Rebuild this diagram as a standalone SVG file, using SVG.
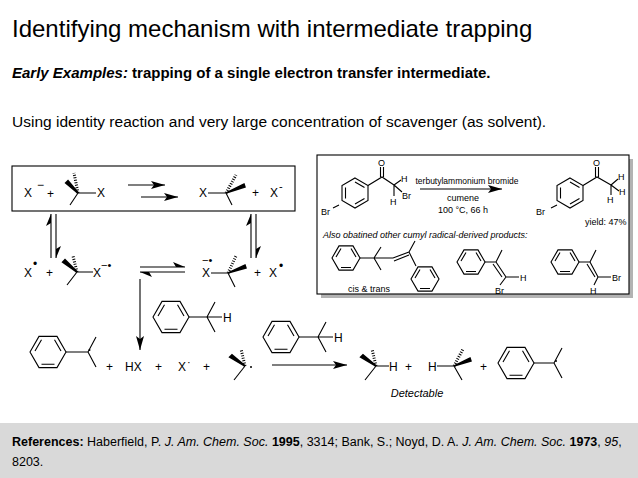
<svg xmlns="http://www.w3.org/2000/svg" width="638" height="478" viewBox="0 0 638 478">
<style>
text{font-family:"Liberation Sans",Arial,sans-serif;fill:#000}
.b{stroke:#000;stroke-width:1.1;fill:none}
.s{font-size:11px}
.m{font-size:12px}
.t{font-size:9px}
.i{font-style:italic}
</style>
<defs>
<g id="hx"><polygon class="b" points="-18,0 -9,-15.6 9,-15.6 18,0 9,15.6 -9,15.6"/><path class="b" d="M-13,-1 L-6.5,-12.2 M6.5,-12.2 L13,-1 M6.5,12.2 L-6.5,12.2"/></g>
<g id="hs"><polygon class="b" points="-14,0 -7,-12.1 7,-12.1 14,0 7,12.1 -7,12.1"/><path class="b" d="M-10,-1 L-5,-9.5 M5,-9.5 L10,-1 M5,9.5 L-5,9.5"/></g>
<g id="hp"><polygon class="b" points="0,-15 13,-7.5 13,7.5 0,15 -13,7.5 -13,-7.5"/><path class="b" d="M0,-11 L9.5,-5.5 M9.5,5.5 L0,11 M-9.5,5.5 L-9.5,-5.5"/></g>
<marker id="ab" viewBox="0 0 14 8" refX="14" refY="4" markerWidth="14" markerHeight="8" markerUnits="userSpaceOnUse" orient="auto"><path d="M0,0 L14,4 L0,8 L3,4z" fill="#000"/></marker>
<marker id="hf" viewBox="0 0 12 5" refX="12" refY="5" markerWidth="12" markerHeight="5" markerUnits="userSpaceOnUse" orient="auto"><path d="M0,0 L12,5 L3,5z" fill="#000"/></marker>
</defs>
<rect width="638" height="478" fill="#fff"/>
<text x="12" y="37" font-size="24">Identifying mechanism with intermediate trapping</text>
<text x="12" y="78" font-size="15" font-weight="bold"><tspan font-style="italic">Early Examples:</tspan> trapping of a single electron transfer intermediate.</text>
<text x="12" y="127" font-size="15.5">Using identity reaction and very large concentration of scavenger (as solvent).</text>

<g id="box1">
<rect x="12" y="166" width="283" height="45" class="b" stroke-width="1.3"/>
<text x="24" y="197" class="m">X</text><text x="37" y="189" class="m">−</text><text x="47" y="198" class="m">+</text>
<path d="M78,193 L66,183 L68,181z" fill="#000" stroke="#000" stroke-width="2"/>
<path d="M78,193 L74,173" stroke="#000" stroke-width="3" stroke-dasharray="1 1.5"/>
<path class="b" d="M78,193 L70,205 M78,193 L96,193"/>
<text x="97" y="197" class="m">X</text>
<text x="199" y="197" class="m">X</text>
<path class="b" d="M208,193 L226,193 L232,205"/>
<path d="M226,193 L244,184 L245,187z" fill="#000" stroke="#000" stroke-width="1.5"/>
<path d="M226,193 L236,175" stroke="#000" stroke-width="3" stroke-dasharray="1 1.5"/>
<text x="252" y="197" class="m">+</text><text x="270" y="197" class="m">X</text><text x="279" y="190" class="s">-</text>
</g>
<g id="row2">
<text x="24" y="277" class="m">X</text><text x="33" y="268" class="m">•</text><text x="46" y="277" class="m">+</text>
<path d="M77,272 L63,262 L65,260z" fill="#000" stroke="#000" stroke-width="2"/>
<path d="M77,272 L73,256" stroke="#000" stroke-width="3" stroke-dasharray="1 1.5"/>
<path class="b" d="M77,272 L67,285 M77,272 L93,272"/>
<text x="93" y="277" class="m">X</text><text x="101" y="269" class="s">−•</text>
<text x="202" y="277" class="m">X</text><text x="202" y="264" class="s">−•</text>
<path class="b" d="M211,273 L228,273 L235,287"/>
<path d="M228,273 L245,265 L246,268z" fill="#000" stroke="#000" stroke-width="1.5"/>
<path d="M228,273 L236,256" stroke="#000" stroke-width="3" stroke-dasharray="1 1.5"/>
<text x="254" y="277" class="m">+</text><text x="269" y="277" class="m">X</text><text x="279" y="270" class="m">•</text>
</g>
<g id="row3">
<use href="#hx" x="48" y="352"/>
<path class="b" d="M66,352 L88,352 L96,337 M88,352 L96,367"/>
<circle cx="89.5" cy="350" r="1" fill="#000"/>
<text x="106" y="371" class="m">+</text><text x="125" y="371" class="m">HX</text><text x="155" y="371" class="m">+</text>
<text x="178" y="371" class="m">X</text><text x="187" y="366" class="s">·</text><text x="203" y="371" class="m">+</text>
<path d="M245,366 L230,357 L232,355z" fill="#000" stroke="#000" stroke-width="2"/>
<path d="M245,366 L241,349" stroke="#000" stroke-width="3" stroke-dasharray="1 1.5"/>
<path class="b" d="M245,366 L234,380"/>
<circle cx="251" cy="367" r="1" fill="#000"/>
<use href="#hx" x="171" y="317"/>
<path class="b" d="M189,317 L207,317 L215,302 M207,317 L215,332 M207,317 L222,317"/>
<text x="223" y="322" class="m">H</text>
<use href="#hx" x="281" y="337"/>
<path class="b" d="M299,337 L318,337 L326,322 M318,337 L326,352 M318,337 L333,337"/>
<text x="334" y="342" class="m">H</text>
<path d="M376,366 L361,357 L363,355z" fill="#000" stroke="#000" stroke-width="2"/>
<path d="M376,366 L372,349" stroke="#000" stroke-width="3" stroke-dasharray="1 1.5"/>
<path class="b" d="M376,366 L365,380 M376,366 L389,366"/>
<text x="389" y="371" class="m">H</text>
<text x="405" y="371" class="m">+</text>
<text x="428" y="371" class="m">H</text>
<path class="b" d="M437,366 L454,366 L462,380"/>
<path d="M454,366 L470,358 L471,361z" fill="#000" stroke="#000" stroke-width="1.5"/>
<path d="M454,366 L463,349" stroke="#000" stroke-width="3" stroke-dasharray="1 1.5"/>
<text x="480" y="371" class="m">+</text>
<use href="#hx" x="516" y="363"/>
<path class="b" d="M534,363 L554,363 L562,348 M554,363 L562,378"/>
<circle cx="556" cy="361" r="1" fill="#000"/>
<text x="417" y="397" class="s i" text-anchor="middle">Detectable</text>
</g>
<g id="connectors" stroke="#000" stroke-width="1.1" fill="none">
<path d="M128,185 L165,185" marker-end="url(#ab)"/>
<path d="M141,197 L178,197" marker-end="url(#ab)"/>
<path d="M51,258 L51,214" marker-end="url(#hf)"/>
<path d="M56,214 L56,258" marker-end="url(#hf)"/>
<path d="M251,258 L251,214" marker-end="url(#hf)"/>
<path d="M256,214 L256,258" marker-end="url(#hf)"/>
<path d="M140,267 L185,267" marker-end="url(#hf)"/>
<path d="M185,272 L140,272" marker-end="url(#hf)"/>
<path d="M140,279 L140,350" marker-end="url(#ab)"/>
<path d="M272,365 L347,365" marker-end="url(#ab)"/>
</g>

<g id="box2">
<rect x="321" y="159" width="312" height="139" fill="#b3b3b3"/>
<rect x="317" y="155" width="312" height="139" fill="#fff" stroke="#000" stroke-width="1.1"/>
<use href="#hp" x="355" y="193"/>
<path class="b" d="M368,185.5 L382,177 L394,185 M380.5,177 L380.5,167 M383.5,177 L383.5,167 M339,205 L333,208"/>
<path class="b" d="M394,185 L401,180 M394,185 L402,192 M394,185 L394,196"/>
<text x="378" y="166" class="t">O</text>
<text x="401" y="182" class="t">H</text><text x="402" y="199" class="t">Br</text><text x="390" y="205" class="t">H</text>
<text x="321" y="215" class="t">Br</text>
<text x="467" y="184" font-size="8.5" text-anchor="middle">terbutylammonium bromide</text>
<path class="b" d="M420,189 L502,189" marker-end="url(#ab)"/>
<text x="463" y="201" class="t" text-anchor="middle">cumene</text>
<text x="463" y="213" class="t" text-anchor="middle">100 °C, 66 h</text>
<use href="#hp" x="570" y="193"/>
<path class="b" d="M583,185.5 L597,177 L611,185 M595.5,177 L595.5,167 M598.5,177 L598.5,167 M557,205 L551,208"/>
<path class="b" d="M611,185 L618,179 M611,185 L619,191 M611,185 L611,195"/>
<text x="593" y="166" class="t">O</text>
<text x="618" y="180" class="t">H</text><text x="619" y="195" class="t">H</text><text x="607" y="203" class="t">H</text>
<text x="536" y="215" class="t">Br</text>
<text x="585" y="225" class="t">yield: 47%</text>
<text x="323" y="238" class="t i">Also obatined other cumyl radical-derived products:</text>
<use href="#hs" x="346" y="258"/>
<path class="b" d="M360,258 L374,258 L381,247 M374,258 L381,270 M374,258 L393,258 L409,252 M394,261 L409,255 M409,252 L415,241 M409,252 L416,266"/>
<use href="#hs" x="425" y="279"/>
<text x="348" y="292" class="t">cis &amp; trans</text>
<use href="#hs" x="471" y="262"/>
<path class="b" d="M485,262 L496,262 L502,250 M496,262 L506,277 L519,277 M493,264 L502,277 M506,277 L500,285"/>
<text x="520" y="281" class="t">H</text><text x="495" y="294" class="t">Br</text>
<use href="#hs" x="565" y="262"/>
<path class="b" d="M579,262 L590,262 L596,250 M590,262 L598,277 L611,277 M587,264 L595,277 M598,277 L594,285"/>
<text x="612" y="281" class="t">Br</text><text x="590" y="294" class="t">H</text>
</g>

<g id="footer">
<rect x="0" y="423" width="638" height="55" fill="#d9d9d9"/>
<text x="12" y="446" font-size="12.5"><tspan font-weight="bold">References:</tspan> Haberfield, P. <tspan font-style="italic">J. Am. Chem. Soc.</tspan> <tspan font-weight="bold">1995</tspan>, 3314; Bank, S.; Noyd, D. A. <tspan font-style="italic">J. Am. Chem. Soc.</tspan> <tspan font-weight="bold">1973</tspan>, <tspan font-style="italic">95</tspan>,</text>
<text x="12" y="466" font-size="12.5">8203.</text>
</g>
</svg>
